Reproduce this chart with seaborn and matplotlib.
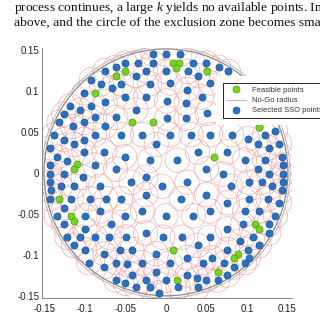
import numpy as np
import pandas as pd
import matplotlib
matplotlib.use('Agg')
import matplotlib.pyplot as plt
import seaborn as sns
from matplotlib.patches import Circle
from matplotlib.lines import Line2D
import matplotlib.patheffects as pe

# selected SSO points (blue)
sso_x = [-0.016, -0.050, -0.034, -0.016, -0.062, -0.075, -0.025, -0.037, -0.092, -0.080,
         -0.055, -0.020, -0.067, -0.101, -0.050, -0.025, -0.075, -0.118, -0.092, -0.106,
         -0.037, -0.126, -0.088, -0.062, -0.132, -0.101, -0.115, -0.075, -0.138, -0.088,
         -0.055, -0.029, -0.126, -0.101, -0.114, -0.012, -0.143, -0.101, -0.076, -0.134,
         -0.051, -0.122, -0.020, -0.143, -0.088, -0.062,
         0.000, 0.017, 0.034, 0.050, 0.065, 0.077, 0.000, 0.027, 0.039, 0.005,
         0.055, 0.026, 0.044, 0.001, 0.025, 0.051, 0.001, 0.025, 0.135, 0.005,
         0.031, 0.055, 0.081, 0.101, 0.122, 0.114, 0.127, 0.140, 0.039, 0.076,
         0.014, 0.097, 0.122, 0.143, 0.050, 0.114, 0.145,
         -0.143, -0.126, -0.102, -0.143, -0.130, -0.113, -0.081, -0.142, -0.143, -0.117,
         -0.094, -0.074, -0.056, -0.126, -0.135, -0.100, -0.081, -0.051, -0.126, -0.068,
         -0.100, -0.122, -0.106, -0.087, -0.070, -0.049, -0.114, -0.100, -0.076, -0.057,
         -0.095, -0.076, -0.061, -0.048, -0.062, -0.050,
         -0.043, -0.025, -0.005, 0.026, -0.025, 0.050, 0.019, -0.029, 0.054, 0.000,
         0.034, -0.025, -0.004, 0.020, 0.054, -0.042, 0.039, -0.012, 0.026, 0.057,
         -0.029, 0.005, 0.046, -0.012, -0.042, 0.026, -0.025, 0.000, 0.038, 0.050,
         -0.037, -0.020, 0.015, 0.039, -0.009,
         0.070, 0.127, 0.145, 0.080, 0.102, 0.118, 0.131, 0.144, 0.143, 0.076,
         0.102, 0.126, 0.140, 0.097, 0.115, 0.135, 0.095, 0.127, 0.076, 0.107,
         0.127, 0.092, 0.115, 0.076, 0.101, 0.072, 0.084, 0.097, 0.102, 0.064,
         0.076]
sso_y = [0.145, 0.134, 0.134, 0.134, 0.129, 0.125, 0.125, 0.119, 0.114, 0.109,
         0.109, 0.109, 0.104, 0.098, 0.093, 0.093, 0.087, 0.082, 0.082, 0.077,
         0.077, 0.072, 0.068, 0.068, 0.062, 0.062, 0.057, 0.057, 0.047, 0.047,
         0.047, 0.047, 0.041, 0.041, 0.035, 0.035, 0.031, 0.026, 0.026, 0.020,
         0.020, 0.015, 0.016, 0.010, 0.010, 0.005,
         0.145, 0.145, 0.134, 0.134, 0.129, 0.124, 0.124, 0.124, 0.119, 0.110,
         0.110, 0.102, 0.093, 0.088, 0.085, 0.073, 0.067, 0.067, 0.052, 0.047,
         0.047, 0.047, 0.047, 0.042, 0.047, 0.036, 0.031, 0.036, 0.026, 0.026,
         0.016, 0.016, 0.016, 0.020, 0.005, 0.005, 0.010,
         -0.001, -0.001, -0.005, -0.011, -0.016, -0.016, -0.016, -0.021, -0.031, -0.031,
         -0.031, -0.031, -0.031, -0.042, -0.052, -0.052, -0.046, -0.052, -0.062, -0.062,
         -0.068, -0.078, -0.078, -0.078, -0.078, -0.078, -0.088, -0.093, -0.098, -0.093,
         -0.109, -0.114, -0.109, -0.111, -0.130, -0.134,
         -0.011, -0.005, -0.016, -0.011, -0.026, -0.026, -0.031, -0.046, -0.046, -0.052,
         -0.052, -0.073, -0.078, -0.078, -0.078, -0.093, -0.088, -0.098, -0.103, -0.103,
         -0.109, -0.109, -0.109, -0.120, -0.124, -0.124, -0.130, -0.130, -0.128, -0.130,
         -0.139, -0.139, -0.139, -0.139, -0.146,
         -0.001, -0.001, -0.001, -0.016, -0.011, -0.011, -0.016, -0.011, -0.021, -0.036,
         -0.031, -0.031, -0.036, -0.046, -0.046, -0.052, -0.062, -0.062, -0.068, -0.078,
         -0.073, -0.083, -0.088, -0.093, -0.093, -0.109, -0.114, -0.109, -0.103, -0.130,
         -0.124]

# feasible points (green)
feas_x = [-0.050, -0.062, -0.088, -0.042, -0.016, -0.110, -0.114, 0.009, 0.016, 0.013,
          0.051, 0.115, 0.059, -0.132, -0.117, -0.113, 0.009, 0.014, 0.110, 0.115,
          0.089, 0.084, 0.064]
feas_y = [0.124, 0.119, 0.098, 0.062, 0.062, 0.011, 0.005, 0.134, 0.134, 0.128,
          0.124, 0.056, 0.020, -0.031, -0.052, -0.058, -0.093, -0.130, -0.062, -0.068,
          -0.098, -0.103, -0.120]

ticks = [-0.15, -0.1, -0.05, 0, 0.05, 0.1, 0.15]
tick_labels = ['-0.15', '-0.1', '-0.05', '0', '0.05', '0.1', '0.15']
nogo_r = 0.015
zone_r = 0.1505
legend_labels = ['Feasible points', 'No-Go radius', 'Selected SSO points']
caption = ['process continues, a large $k$ yields no available points. In t',
           'above, and the circle of the exclusion zone becomes smal']

sns.set_style('white')
plt.rcParams['font.family'] = ['Liberation Sans', 'DejaVu Sans']
plt.rcParams['mathtext.fontset'] = 'custom'
plt.rcParams['mathtext.it'] = 'Liberation Serif:italic'
plt.rcParams['mathtext.rm'] = 'Liberation Serif'

fig = plt.figure(figsize=(3.2, 3.2), dpi=100)
ax = fig.add_axes([0.131, 0.069, 0.780, 0.782])

red = '#f3a4a4'
for x, y in zip(sso_x, sso_y):
    ax.add_patch(Circle((x, y), nogo_r, fill=False, ec=red, lw=0.45, zorder=1))
ax.add_patch(Circle((0, 0.001), zone_r, fill=False, ec='#8a8a8a', lw=0.9, zorder=2))
ax.add_patch(Circle((0, 0.001), zone_r + 0.0028, fill=False, ec='#b9a9a9', lw=0.6, zorder=2))

feas = pd.DataFrame({'x': feas_x, 'y': feas_y})
sso = pd.DataFrame({'x': sso_x, 'y': sso_y})
sns.scatterplot(data=feas, x='x', y='y', ax=ax, s=26, color='#76d31e',
                edgecolor='#4b9a12', linewidth=0.5, zorder=3)
sns.scatterplot(data=sso, x='x', y='y', ax=ax, s=26, color='#2a70c0',
                edgecolor='#1c5497', linewidth=0.5, zorder=3)

ax.set_xlim(-0.153, 0.155)
ax.set_ylim(-0.152, 0.153)
ax.set_xticks(ticks, labels=tick_labels)
ax.set_yticks(ticks, labels=tick_labels)
ax.set_xlabel('')
ax.set_ylabel('')
sns.despine(ax=ax)
for s in ['left', 'bottom']:
    ax.spines[s].set_color('#888888')
    ax.spines[s].set_linewidth(0.7)
ax.tick_params(direction='in', length=2, width=0.6, color='#777777',
               labelsize=7, labelcolor='#222222')
ax.tick_params(axis='x', pad=4.5)
ax.tick_params(axis='y', pad=2)

handles = [Line2D([], [], ls='none', marker='o', ms=5, mfc='#76d31e', mec='#4b9a12', mew=0.5),
           Line2D([], [], color=red, lw=0.8),
           Line2D([], [], ls='none', marker='o', ms=5, mfc='#2a70c0', mec='#1c5497', mew=0.5)]
leg = ax.legend(handles, legend_labels, loc='upper left', bbox_to_anchor=(223 / 320, 1 - 83 / 320),
                bbox_transform=fig.transFigure, borderaxespad=0, fontsize=5.5, handlelength=2.5,
                handletextpad=0.8, labelspacing=0.35, borderpad=0.5, fancybox=False,
                framealpha=1, edgecolor='black')
leg.get_frame().set_linewidth(0.6)
leg.get_frame().set_path_effects([pe.withStroke(linewidth=10, foreground='white')])
leg.set_zorder(10)
for t in leg.get_texts():
    t.set_color('#333333')

fig.text(14 / 320, 1 - 10.5 / 320, caption[0], family='Liberation Serif', fontsize=9.7, color='#111111')
fig.text(14 / 320, 1 - 25.5 / 320, caption[1], family='Liberation Serif', fontsize=9.7, color='#111111')

fig.savefig('out.png', dpi=100, facecolor='white')
